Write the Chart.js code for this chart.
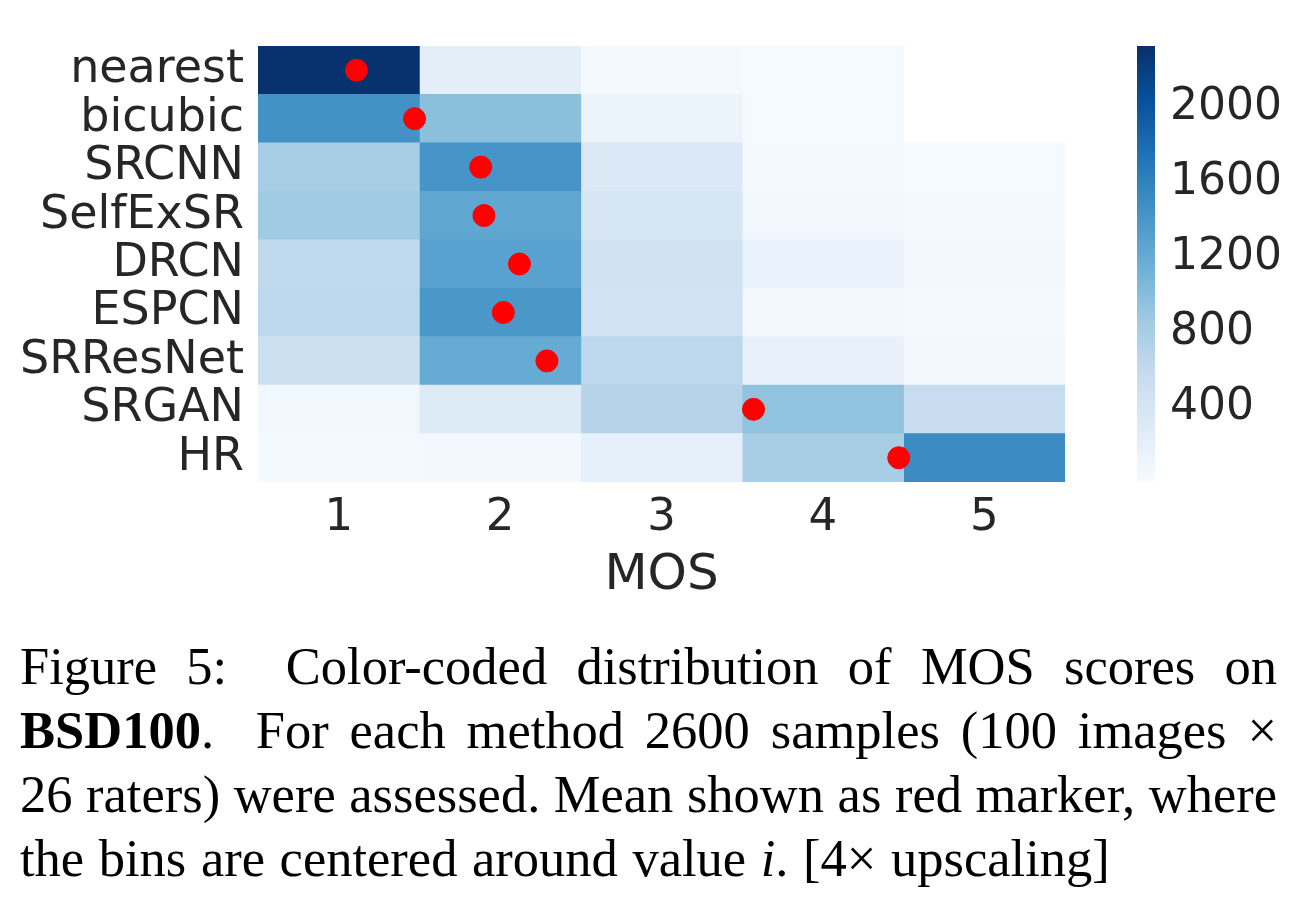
<!DOCTYPE html>
<html>
<head>
<meta charset="utf-8">
<script src="https://cdn.jsdelivr.net/npm/chart.js@4.4.1/dist/chart.umd.min.js"></script>
<style>
  html, body { margin: 0; padding: 0; background: #fff; }
  body { width: 1292px; height: 898px; position: relative; overflow: hidden; }
  #heatWrap { position: absolute; left: 0; top: 0; width: 1100px; height: 610px; }
  #barWrap { position: absolute; left: 1100px; top: 0; width: 192px; height: 610px; }
  #caption {
    position: absolute; left: 20px; top: 634px; width: 1257px;
    font-family: "Liberation Serif", "Times New Roman", serif;
    font-size: 52.5px; line-height: 64px; color: #000;
  }
  #caption .j { text-align: justify; text-align-last: justify; white-space: nowrap; }
  #caption .l { text-align: left; white-space: nowrap; word-spacing: 1.5px; }
</style>
</head>
<body>
<div id="heatWrap"><canvas id="heatChart"></canvas></div>
<div id="barWrap"><canvas id="barChart"></canvas></div>
<div id="caption">
  <div class="j">Figure 5:&nbsp; Color-coded distribution of MOS scores on</div>
  <div class="j"><b>BSD100</b>.&nbsp; For each method 2600 samples (100 images &times;</div>
  <div class="j">26 raters) were assessed. Mean shown as red marker, where</div>
  <div class="l">the bins are centered around value <i>i</i>. [4&times; upscaling]</div>
</div>
<script>
// rows of the heatmap (top to bottom)
const methods = ['nearest', 'bicubic', 'SRCNN', 'SelfExSR', 'DRCN', 'ESPCN', 'SRResNet', 'SRGAN', 'HR'];
const mosBins = [1, 2, 3, 4, 5];

// rating counts per MOS bin, one value per method (0 = empty cell)
const bin1 = [2310, 1460, 800, 850, 620, 650, 500, 80, 40];
const bin2 = [230, 980, 1420, 1250, 1290, 1400, 1200, 300, 50];
const bin3 = [40, 140, 330, 380, 460, 440, 650, 700, 200];
const bin4 = [20, 20, 30, 80, 160, 70, 180, 950, 800];
const bin5 = [0, 0, 20, 40, 70, 40, 70, 570, 1510];
const binCounts = [bin1, bin2, bin3, bin4, bin5];

// mean MOS per method (red markers)
const meanMos = [1.11, 1.47, 1.88, 1.90, 2.12, 2.02, 2.29, 3.57, 4.47];

// colorbar
const colorMax = 2330;
const colorTicks = [400, 800, 1200, 1600, 2000];

// matplotlib "Blues"
const blues = ['#f7fbff', '#deebf7', '#c6dbef', '#9ecae1', '#6baed6', '#4292c6', '#2171b5', '#08519c', '#08306b'];
const textColor = '#262626';
const fontFamily = '"DejaVu Sans", sans-serif';

const hexToRgb = (h) => [1, 3, 5].map(i => parseInt(h.substr(i, 2), 16));

const bluesColor = (v) => {
  let t = Math.max(0, Math.min(1, v / colorMax)) * (blues.length - 1);
  const i = Math.min(Math.floor(t), blues.length - 2);
  const f = t - i;
  const a = hexToRgb(blues[i]), b = hexToRgb(blues[i + 1]);
  const c = a.map((x, k) => Math.round(x + (b[k] - x) * f));
  return `rgb(${c[0]},${c[1]},${c[2]})`;
};

const heatDatasets = mosBins.map((bin, j) => ({
  type: 'bar',
  label: 'MOS ' + bin,
  data: binCounts[j].map(v => v > 0 ? [bin - 0.5, bin + 0.5] : null),
  backgroundColor: binCounts[j].map(v => bluesColor(v)),
  borderWidth: 0,
  categoryPercentage: 1.0,
  barPercentage: 1.0,
  grouped: false,
  order: 2
}));

const meanDataset = {
  type: 'scatter',
  label: 'Mean',
  data: methods.map((m, i) => ({ x: meanMos[i], y: m })),
  backgroundColor: '#ff0000',
  borderColor: '#ff0000',
  pointRadius: 11,
  order: 1
};

new Chart(document.getElementById('heatChart'), {
  type: 'bar',
  data: { labels: methods, datasets: [...heatDatasets, meanDataset] },
  options: {
    indexAxis: 'y',
    responsive: true,
    maintainAspectRatio: false,
    animation: false,
    layout: { padding: { top: 46, right: 35, left: 0, bottom: 0 } },
    scales: {
      x: {
        type: 'linear',
        min: 0.5,
        max: 5.5,
        afterBuildTicks: (scale) => { scale.ticks = mosBins.map(v => ({ value: v })); },
        afterFit: (scale) => { scale.height = 128; },
        grid: { display: false, drawTicks: false },
        border: { display: false },
        ticks: { color: textColor, font: { family: fontFamily, size: 45 }, padding: 9 },
        title: {
          display: true, text: 'MOS', color: textColor,
          font: { family: fontFamily, size: 50 },
          padding: { top: 0, bottom: 4 }
        }
      },
      y: {
        type: 'category',
        afterFit: (scale) => { scale.width = 258; },
        grid: { display: false, drawTicks: false },
        border: { display: false },
        ticks: { color: textColor, font: { family: fontFamily, size: 46 }, padding: 14, autoSkip: false }
      }
    },
    plugins: { legend: { display: false }, tooltip: { enabled: false } }
  }
});

// colorbar as a single gradient bar on its own linear axis
new Chart(document.getElementById('barChart'), {
  type: 'bar',
  data: {
    labels: ['count'],
    datasets: [{
      data: [[0, colorMax]],
      backgroundColor: (ctx) => {
        const area = ctx.chart.chartArea;
        if (!area) return blues[4];
        const g = ctx.chart.ctx.createLinearGradient(0, area.bottom, 0, area.top);
        blues.forEach((c, i) => g.addColorStop(i / (blues.length - 1), c));
        return g;
      },
      borderWidth: 0,
      categoryPercentage: 1.0,
      barPercentage: 1.0
    }]
  },
  options: {
    responsive: true,
    maintainAspectRatio: false,
    animation: false,
    layout: { padding: { top: 46, bottom: 128, left: 37, right: 0 } },
    scales: {
      x: { display: false },
      y: {
        position: 'right',
        min: 0,
        max: colorMax,
        afterBuildTicks: (scale) => { scale.ticks = colorTicks.map(v => ({ value: v })); },
        afterFit: (scale) => { scale.width = 137; },
        grid: { display: false, drawTicks: false },
        border: { display: false },
        ticks: {
          color: textColor, font: { family: fontFamily, size: 44 }, padding: 15,
          callback: (v) => String(v)
        }
      }
    },
    plugins: { legend: { display: false }, tooltip: { enabled: false } }
  }
});
</script>
</body>
</html>
